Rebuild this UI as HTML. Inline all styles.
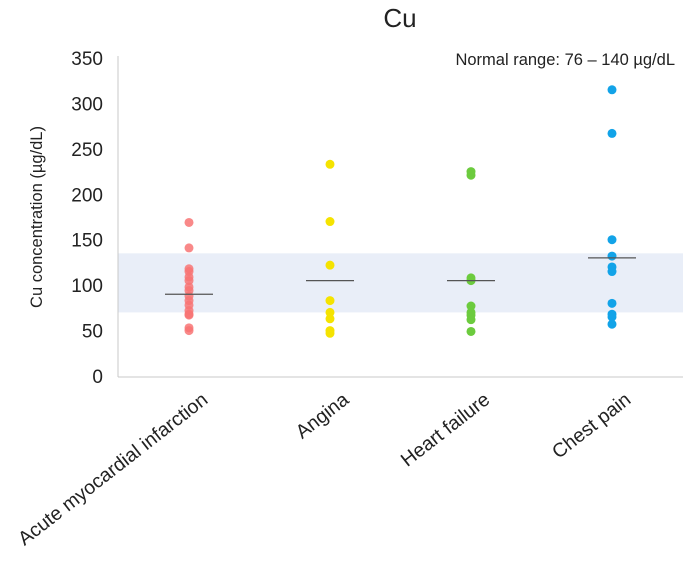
<!DOCTYPE html>
<html><head><meta charset="utf-8"><style>
body{margin:0;background:#fff;font-family:"Liberation Sans",sans-serif}
svg text{font-family:"Liberation Sans",sans-serif;fill:#222}
</style></head><body>
<svg width="685" height="561">
<text x="400" y="27" font-size="26" text-anchor="middle">Cu</text>
<text x="675" y="65" font-size="16.5" text-anchor="end">Normal range: 76 – 140 µg/dL</text>
<text transform="translate(42,217) rotate(-90)" font-size="16.5" text-anchor="middle">Cu concentration (µg/dL)</text>
<g id="g"></g>
</svg>
<script>
const categories=["Acute myocardial infarction","Angina","Heart failure","Chest pain"];
const colors=["#f87474","#f5e300","#6ccb3e","#12a3e8"];
const amiValues=[169,141,118,115,109,105,98,94,88,83,78,72,68,67,53,50];
const anginaValues=[233,170,122,83,70,63,50,47];
const hfValues=[225,221,108,105,77,70,67,62,49];
const cpValues=[315,267,150,132,120,115,80,68,65,57];
const means=[90,105,105,130];
const band=[70,135];
const yTicks=[0,50,100,150,200,250,300,350];
const series=[amiValues,anginaValues,hfValues,cpValues];
const NS="http://www.w3.org/2000/svg",g=document.getElementById("g");
const y=v=>376-v*(318/350);
const x=i=>189+i*141;
function mk(t,a){const e=document.createElementNS(NS,t);for(const k in a)e.setAttribute(k,a[k]);g.appendChild(e);return e;}
let b=mk("rect",{x:118,y:y(band[1]),width:565,height:y(band[0])-y(band[1]),fill:"#e9eef8"});


let ax=mk("line",{x1:118,y1:56,x2:118,y2:377,stroke:"#c8c8c8"});


let xa=mk("line",{x1:118,y1:377,x2:683,y2:377,stroke:"#c8c8c8"});


yTicks.forEach(t=>{const e=mk("text",{x:103,y:y(t)+7,"font-size":19,"text-anchor":"end"});e.textContent=t;

});
series.forEach((s,i)=>{
 s.forEach(v=>{const c=mk("circle",{cx:x(i),cy:y(v),r:4.5,fill:colors[i],"fill-opacity":i==0?0.85:1});
 
 });
 const m=mk("line",{x1:x(i)-24,x2:x(i)+24,y1:y(means[i]),y2:y(means[i]),stroke:"#555","stroke-width":1.3});
 
 
 const t=mk("text",{transform:`translate(${x(i)+20},${402}) rotate(-38)`,"font-size":19.5,"text-anchor":"end"});
 t.textContent=categories[i];
 
 
});
</script>
</body></html>
